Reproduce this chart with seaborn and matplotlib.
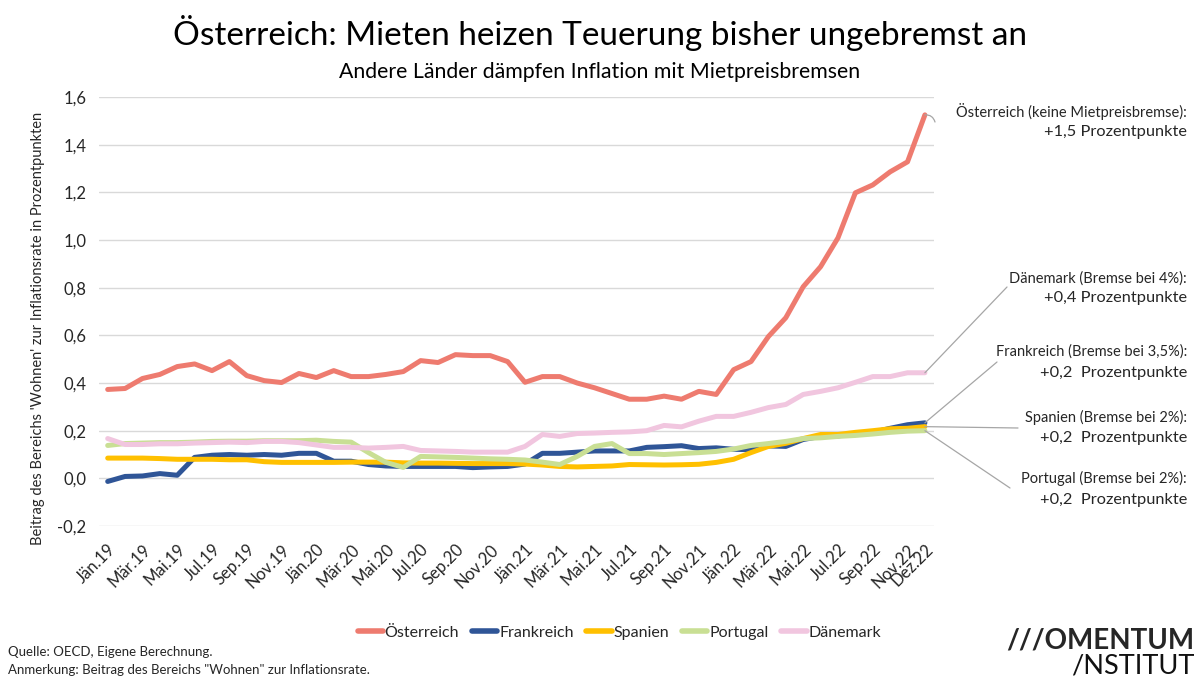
import pandas as pd
import seaborn as sns
import matplotlib.pyplot as plt
from matplotlib.ticker import FuncFormatter

monate = ["Jän", "Feb", "Mär", "Apr", "Mai", "Jun", "Jul", "Aug", "Sep", "Okt", "Nov", "Dez"]
jahre = ["19", "20", "21", "22"]
labels = [f"{m}.{j}" for j in jahre for m in monate]

oesterreich = [0.373, 0.377, 0.419, 0.436, 0.469, 0.480, 0.452, 0.490, 0.431, 0.410, 0.402, 0.440,
               0.423, 0.452, 0.427, 0.427, 0.436, 0.448, 0.494, 0.486, 0.519, 0.515, 0.515, 0.490,
               0.403, 0.427, 0.427, 0.400, 0.380, 0.356, 0.332, 0.332, 0.345, 0.332, 0.365, 0.352,
               0.456, 0.490, 0.595, 0.674, 0.804, 0.888, 1.009, 1.198, 1.231, 1.286, 1.328, 1.525]
frankreich = [-0.013, 0.008, 0.010, 0.020, 0.013, 0.088, 0.097, 0.100, 0.097, 0.100, 0.097, 0.105,
              0.105, 0.072, 0.072, 0.058, 0.052, 0.050, 0.050, 0.050, 0.050, 0.045, 0.048, 0.050,
              0.060, 0.105, 0.105, 0.110, 0.115, 0.115, 0.115, 0.130, 0.133, 0.137, 0.125, 0.128,
              0.122, 0.120, 0.136, 0.134, 0.163, 0.176, 0.178, 0.188, 0.193, 0.210, 0.225, 0.233]
spanien = [0.085, 0.085, 0.085, 0.083, 0.080, 0.080, 0.080, 0.078, 0.078, 0.070, 0.067, 0.067,
           0.067, 0.067, 0.068, 0.068, 0.068, 0.065, 0.064, 0.064, 0.063, 0.062, 0.062, 0.062,
           0.060, 0.056, 0.050, 0.048, 0.050, 0.052, 0.058, 0.057, 0.056, 0.057, 0.059, 0.067,
           0.080, 0.108, 0.134, 0.147, 0.167, 0.184, 0.184, 0.193, 0.200, 0.208, 0.210, 0.217]
portugal = [0.138, 0.146, 0.148, 0.150, 0.150, 0.152, 0.155, 0.156, 0.156, 0.158, 0.158, 0.158,
            0.160, 0.155, 0.152, 0.108, 0.067, 0.046, 0.092, 0.090, 0.088, 0.085, 0.082, 0.080,
            0.077, 0.068, 0.058, 0.092, 0.134, 0.146, 0.104, 0.104, 0.100, 0.104, 0.108, 0.113,
            0.123, 0.138, 0.146, 0.155, 0.167, 0.170, 0.176, 0.180, 0.186, 0.193, 0.198, 0.200]
daenemark = [0.167, 0.142, 0.142, 0.145, 0.145, 0.148, 0.150, 0.152, 0.150, 0.155, 0.155, 0.150,
             0.140, 0.130, 0.130, 0.127, 0.130, 0.134, 0.117, 0.115, 0.113, 0.110, 0.110, 0.110,
             0.134, 0.184, 0.176, 0.188, 0.190, 0.193, 0.195, 0.200, 0.222, 0.216, 0.240, 0.260,
             0.260, 0.277, 0.297, 0.310, 0.352, 0.365, 0.380, 0.403, 0.427, 0.427, 0.443, 0.443]

laender = ["Österreich", "Frankreich", "Spanien", "Portugal", "Dänemark"]
farben = ["#EE7B6F", "#2F5597", "#FFC000", "#C9DF94", "#F1C6DF"]
werte = [oesterreich, frankreich, spanien, portugal, daenemark]

rows = []
for land, vals in zip(laender, werte):
    for i, v in enumerate(vals):
        rows.append({"monat": i, "wert": v, "Land": land})
df = pd.DataFrame(rows)

sns.set_style("white")
plt.rcParams["font.family"] = ["Lato", "DejaVu Sans"]

fig = plt.figure(figsize=(12, 6.86), dpi=100)
ax = fig.add_axes([0.0825, 0.2332, 0.6955, 0.6254])

sns.lineplot(data=df, x="monat", y="wert", hue="Land", palette=dict(zip(laender, farben)),
             linewidth=3.6, ax=ax, legend=False)

ax.set_xlim(-0.5, 47.5)
ax.set_ylim(-0.2, 1.6)
ax.set_yticks([-0.2, 0, 0.2, 0.4, 0.6, 0.8, 1.0, 1.2, 1.4, 1.6])
ax.yaxis.set_major_formatter(FuncFormatter(lambda v, p: f"{v:.1f}".replace(".", ",").replace("-0,0", "0,0")))
ax.grid(axis="y", color="#D9D9D9", lw=1)
ax.grid(axis="x", visible=False)
sns.despine(ax=ax, left=True, bottom=True)
ax.tick_params(axis="y", labelsize=12, pad=9, length=0)
idx = list(range(0, 48, 2)) + [47]
ax.set_xticks(idx)
ax.set_xticklabels([labels[i] for i in idx], rotation=45, ha="right", rotation_mode="anchor", fontsize=12)
ax.tick_params(axis="x", length=0, pad=11)
ax.set_xlabel("")
ax.set_ylabel("Beitrag des Bereichs 'Wohnen' zur Inflationsrate in Prozentpunkten", fontsize=10.5)
ax.yaxis.set_label_coords(-0.065, 0.46)

fig.text(0.5, 0.952, "Österreich: Mieten heizen Teuerung bisher ungebremst an", ha="center", va="center",
         fontsize=24, color="black")
fig.text(0.5, 0.895, "Andere Länder dämpfen Inflation mit Mietpreisbremsen", ha="center", va="center",
         fontsize=15.3, color="black")

handles = [plt.Line2D([], [], color=c, lw=4) for c in farben]
fig.legend(handles, laender, loc="center", bbox_to_anchor=(0.516, 0.078), ncol=5, frameon=False,
           fontsize=11.5, handlelength=1.6, handletextpad=0.1, columnspacing=0.8)

# Beschriftungen rechts
notes = [
    ("Österreich (keine Mietpreisbremse):", "+1,5 Prozentpunkte", 112, 132, None),
    ("Dänemark (Bremse bei 4%):", "+0,4 Prozentpunkte", 279, 298, (1007, 287)),
    ("Frankreich (Bremse bei 3,5%):", "+0,2  Prozentpunkte", 352, 373, (997, 362)),
    ("Spanien (Bremse bei 2%):", "+0,2  Prozentpunkte", 417, 438, (1018, 428)),
    ("Portugal (Bremse bei 2%):", "+0,2  Prozentpunkte", 478, 500, (1010, 488)),
]
ends = {"Österreich": oesterreich[-1], "Dänemark": daenemark[-1], "Frankreich": frankreich[-1],
        "Spanien": spanien[-1], "Portugal": portugal[-1]}
for (l1, l2, y1, y2, anchor), land in zip(notes, ["Österreich", "Dänemark", "Frankreich", "Spanien", "Portugal"]):
    fig.text(1187 / 1200, 1 - y1 / 686, l1, ha="right", va="center", fontsize=10.5)
    fig.text(1187 / 1200, 1 - y2 / 686, l2, ha="right", va="center", fontsize=11.8)
    if anchor is not None:
        ax.annotate("", xy=(47, ends[land]), xycoords="data",
                    xytext=(anchor[0] / 1200, 1 - anchor[1] / 686), textcoords="figure fraction",
                    arrowprops=dict(arrowstyle="-", color="#A6A6A6", lw=0.9, shrinkA=0, shrinkB=0))
    else:
        ax.annotate("", xy=(47, ends[land]), xycoords="data",
                    xytext=(935 / 1200, 1 - 122 / 686), textcoords="figure fraction",
                    arrowprops=dict(arrowstyle="-", color="#A6A6A6", lw=0.9, shrinkA=0, shrinkB=0,
                                    connectionstyle="arc3,rad=0.4"))

fig.text(8 / 1200, 1 - 652 / 686, "Quelle: OECD, Eigene Berechnung.", ha="left", va="center", fontsize=9.5)
fig.text(8 / 1200, 1 - 670 / 686, 'Anmerkung: Beitrag des Bereichs "Wohnen" zur Inflationsrate.',
         ha="left", va="center", fontsize=9.5)
fig.text(1194 / 1200, 1 - 641 / 686, "///OMENTUM", ha="right", va="center", fontsize=20, fontweight="bold")
fig.text(1194 / 1200, 1 - 666 / 686, "/NSTITUT", ha="right", va="center", fontsize=19.5, color="#111111")

fig.savefig("out.png", dpi=100)
